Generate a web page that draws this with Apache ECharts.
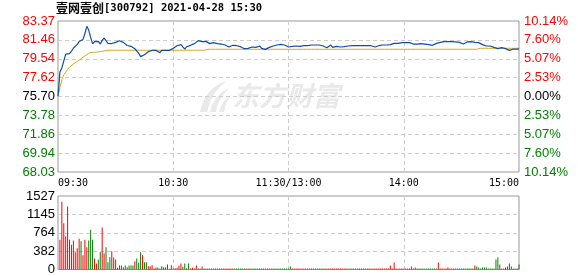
<!DOCTYPE html>
<html><head><meta charset="utf-8">
<script src="https://cdn.jsdelivr.net/npm/echarts@6/dist/echarts.min.js"></script>
<style>html,body{margin:0;padding:0;background:#fff}#c{width:578px;height:276px}</style>
</head><body><div id="c"></div>
<script>
const stockName = '壹网壹创';
const stockInfo = '[300792] 2021-04-28 15:30';
const timeLabels = ['09:30', '10:30', '11:30/13:00', '14:00', '15:00'];
const priceTicks = ['68.03', '69.94', '71.86', '73.78', '75.70', '77.62', '79.54', '81.46', '83.37'];
const pctTicks = ['10.14%', '7.60%', '5.07%', '2.53%', '0.00%', '2.53%', '5.07%', '7.60%', '10.14%'];
const volTicks = ['0', '382', '764', '1145', '1527'];
const priceMin = 68.03, priceMax = 83.37, volMax = 1527;

const price = [
75.72,78.20,78.60,79.30,80.00,80.19,80.05,80.30,80.60,80.80,
81.00,81.28,81.20,81.50,82.10,82.83,82.45,81.70,81.05,81.28,
81.24,81.30,81.03,81.40,81.64,81.37,81.10,81.00,81.08,81.14,
81.20,81.26,81.36,81.38,81.20,81.00,80.88,80.86,80.80,80.62,
80.55,80.45,80.10,79.75,79.85,79.95,80.10,80.25,80.36,80.39,
80.46,80.39,80.40,80.15,80.39,80.46,80.40,80.30,80.39,80.52,
80.59,80.69,80.86,80.97,80.97,80.86,80.52,80.76,80.93,80.90,
80.97,81.07,81.24,81.37,81.37,81.27,81.24,81.30,81.20,81.07,
81.20,81.17,81.10,81.07,81.10,81.03,80.93,80.93,80.83,80.73,
80.76,80.90,80.90,80.86,80.83,80.76,80.66,80.56,80.46,80.59,
80.76,80.73,80.83,80.69,80.76,80.83,80.59,80.66,80.49,80.63,
80.69,80.66,80.83,80.86,80.93,80.97,81.00,80.97,80.93,80.86,
80.73,80.73,80.80,80.83,80.83,80.76,80.80,80.83,80.86,80.86,
80.86,80.90,80.93,80.93,80.93,80.93,80.93,80.86,80.83,80.76,
80.66,80.83,80.93,80.69,80.83,80.80,80.76,80.73,80.63,80.76,
80.69,80.83,80.86,80.86,80.86,80.86,80.86,80.86,80.86,80.86,
80.86,80.86,80.93,80.86,80.83,80.73,80.69,80.86,80.93,80.93,
80.93,80.93,80.93,80.97,81.14,81.10,81.24,81.10,81.03,81.17,
81.17,81.17,81.17,81.17,81.17,81.03,80.97,81.03,80.97,81.07,
81.03,81.03,81.03,80.97,81.03,80.90,81.00,81.10,81.17,81.20,
81.27,81.27,81.30,81.27,81.27,81.27,81.27,81.24,81.24,81.20,
81.10,81.03,81.17,81.24,81.27,81.27,81.27,81.20,81.27,81.17,
81.03,80.97,80.90,80.83,80.83,80.83,80.76,80.69,80.63,80.56,
80.59,80.66,80.59,80.56,80.46,80.39,80.49,80.52,80.52,80.52,
80.52
];

const avgPrice = [
75.72,76.60,77.40,77.90,78.10,78.45,78.68,78.85,79.00,79.12,
79.25,79.40,79.55,79.68,79.82,79.98,80.10,80.16,80.19,80.20,
80.20,80.22,80.27,80.30,80.33,80.36,80.40,80.40,80.40,80.40,
80.40,80.40,80.40,80.40,80.40,80.40,80.40,80.40,80.40,80.40,
80.40,80.40,80.40,80.40,80.40,80.40,80.40,80.40,80.40,80.40,
80.40,80.40,80.40,80.40,80.40,80.40,80.40,80.40,80.40,80.40,
80.40,80.40,80.40,80.40,80.40,80.40,80.40,80.40,80.40,80.40,
80.40,80.40,80.40,80.40,80.40,80.40,80.40,80.50,80.50,80.50,
80.50,80.50,80.50,80.50,80.50,80.50,80.50,80.50,80.50,80.50,
80.50,80.50,80.50,80.50,80.50,80.50,80.50,80.50,80.50,80.50,
80.50,80.50,80.50,80.50,80.50,80.50,80.50,80.50,80.50,80.50,
80.50,80.50,80.50,80.50,80.50,80.50,80.50,80.50,80.50,80.50,
80.50,80.50,80.50,80.50,80.50,80.50,80.50,80.50,80.50,80.50,
80.50,80.50,80.50,80.50,80.50,80.50,80.50,80.50,80.50,80.50,
80.50,80.50,80.50,80.50,80.50,80.50,80.50,80.50,80.50,80.50,
80.50,80.50,80.50,80.50,80.50,80.50,80.50,80.50,80.50,80.50,
80.50,80.50,80.50,80.50,80.50,80.50,80.50,80.50,80.50,80.50,
80.50,80.50,80.50,80.50,80.50,80.50,80.50,80.50,80.50,80.50,
80.50,80.50,80.50,80.50,80.50,80.50,80.50,80.50,80.50,80.50,
80.50,80.50,80.50,80.50,80.50,80.50,80.50,80.50,80.50,80.50,
80.50,80.50,80.50,80.50,80.50,80.50,80.50,80.50,80.50,80.50,
80.50,80.50,80.50,80.50,80.50,80.50,80.50,80.50,80.50,80.60,
80.60,80.60,80.60,80.60,80.60,80.60,80.60,80.60,80.60,80.60,
80.60,80.60,80.60,80.60,80.60,80.60,80.60,80.60,80.60,80.60,
80.60
];

const volume = [
0,619,1410,963,688,1307,619,516,605,358,
440,640,585,296,619,461,605,826,619,227,
124,206,358,874,330,461,151,255,378,248,
206,34,83,83,48,83,48,83,83,83,
172,227,138,358,296,151,151,69,69,89,
28,41,41,21,69,48,48,103,14,89,
28,28,34,76,124,55,124,28,124,21,
34,21,83,21,21,62,20,20,20,20,
20,20,20,20,20,20,20,20,20,20,
20,20,20,20,20,20,20,20,20,20,
20,20,20,20,20,20,20,20,20,20,
20,20,20,20,20,20,20,20,20,20,
20,62,20,20,20,20,20,20,20,20,
20,20,20,20,20,20,20,20,20,20,
20,20,20,20,20,20,20,20,20,20,
20,20,20,20,20,20,20,20,20,20,
20,20,20,20,20,20,20,20,20,20,
20,20,20,83,20,144,20,20,20,20,
20,20,20,20,62,20,41,20,20,20,
20,20,20,20,20,20,20,20,144,20,
20,20,20,41,20,20,20,20,20,20,
20,20,20,20,20,20,20,83,62,41,
20,41,41,41,20,20,20,20,206,248,
103,20,20,41,62,124,62,20,20,20,
103
];

const volDir = [
'r','r','r','r','r','r','g','r','r','r',
'r','r','g','r','r','r','g','g','g','r',
'r','g','g','r','r','g','g','g','r','g',
'r','r','r','r','g','g','g','g','g','g',
'r','g','g','g','r','g','g','r','r','r',
'g','r','g','g','g','g','g','g','r','r',
'r','g','r','r','r','g','g','r','g','r',
'r','r','r','g','r','r','g','g','g','g',
'g','g','g','g','g','r','r','r','r','r',
'r','r','g','g','g','g','g','g','r','r',
'g','g','g','g','g','g','g','r','r','r',
'r','r','r','g','g','g','g','g','g','g',
'g','g','r','r','r','r','r','r','r','r',
'r','g','g','g','g','g','g','g','g','r',
'r','r','r','r','r','r','r','r','r','r',
'r','g','g','g','g','g','g','g','g','g',
'g','g','g','r','r','r','r','r','r','r',
'r','r','r','r','r','r','r','r','r','r',
'r','r','r','r','r','r','r','g','g','g',
'g','g','g','g','g','g','g','g','r','r',
'r','r','r','r','r','r','g','g','g','g',
'g','g','g','g','g','g','g','r','g','g',
'g','g','g','g','g','g','g','g','g','g',
'r','r','r','r','r','g','r','r','g','r',
'g'
];

// minute categories 09:30..11:30 then 13:01..15:00
const minutes = [];
for (let m = 0; m <= 120; m++) { const t = 9 * 60 + 30 + m; minutes.push(String(Math.floor(t / 60)).padStart(2, '0') + ':' + String(t % 60).padStart(2, '0')); }
for (let m = 1; m <= 120; m++) { const t = 13 * 60 + m; minutes.push(String(Math.floor(t / 60)).padStart(2, '0') + ':' + String(t % 60).padStart(2, '0')); }

const RED = '#ff0000', GREEN = '#008000', BLACK = '#000000';
const lblColor = (v) => v > 4 ? RED : (v < 4 ? GREEN : BLACK);
const gridDash = { type: [4, 3], width: 1 };
const mainSplitColors = ['rgba(0,0,0,0)', '#cccccc', '#cccccc', '#cccccc', '#cccccc', '#cccccc', '#cccccc', '#cccccc', 'rgba(0,0,0,0)'];
const volSplitColors = ['rgba(0,0,0,0)', '#cccccc', '#cccccc', '#cccccc', 'rgba(0,0,0,0)'];
const axisFont = 'Liberation Sans';
const wm = '#e9e9e9';

const chart = echarts.init(document.getElementById('c'), null, { renderer: 'canvas' });
chart.setOption({
  animation: false,
  backgroundColor: '#ffffff',
  title: {
    text: '{a|' + stockName + '}{b|' + stockInfo + '}',
    left: 56, top: 1, padding: 0,
    textStyle: { rich: {
      a: { fontFamily: 'Noto Sans CJK SC', fontSize: 12, color: '#000', lineHeight: 14 },
      b: { fontFamily: 'DejaVu Sans Mono', fontSize: 10.5, color: '#000', lineHeight: 14 }
    } }
  },
  graphic: [
    { type: 'polygon', x: 198, y: 80, silent: true, z: 0,
      shape: { points: [[2,32],[4,24],[8,16],[14,9],[21,4],[29,0],[22,7],[16,14],[12,22],[9,32]] }, style: { fill: wm } },
    { type: 'polygon', x: 198, y: 80, silent: true, z: 0,
      shape: { points: [[12,32],[14,25],[18,18],[24,12],[31,8],[26,14],[22,20],[19,26],[18,32]] }, style: { fill: wm } },
    { type: 'polygon', x: 198, y: 80, silent: true, z: 0,
      shape: { points: [[21,32],[23,26],[27,20],[32,16],[29,22],[27,27],[26,32]] }, style: { fill: wm } },
    { type: 'text', left: 232, top: 82, silent: true, z: 0,
      style: { text: '东方财富', font: 'italic bold 27px "Noto Sans CJK SC"', fill: wm } }
  ],
  grid: [
    { left: 58, top: 21, width: 461, height: 151, show: true, borderColor: '#999', borderWidth: 1, backgroundColor: 'transparent' },
    { left: 58, top: 196, width: 461, height: 74, show: true, borderColor: '#999', borderWidth: 1, backgroundColor: 'transparent' }
  ],
  xAxis: [
    { type: 'category', gridIndex: 0, data: minutes, boundaryGap: false,
      axisLine: { show: false }, axisTick: { show: false },
      axisLabel: { interval: (i) => i % 60 === 0, formatter: (v, i) => timeLabels[i / 60],
        fontFamily: 'DejaVu Sans Mono', fontSize: 10, color: '#000', margin: 6,
        alignMinLabel: 'left', alignMaxLabel: 'right' },
      splitLine: { show: true, interval: (i) => i % 60 === 0 && i > 0 && i < 240, lineStyle: { color: '#cccccc', ...gridDash } } },
    { type: 'category', gridIndex: 1, data: minutes, boundaryGap: false,
      axisLine: { show: false }, axisTick: { show: false }, axisLabel: { show: false },
      splitLine: { show: true, interval: (i) => i % 60 === 0 && i > 0 && i < 240, lineStyle: { color: '#cccccc', ...gridDash } } }
  ],
  yAxis: [
    { type: 'value', gridIndex: 0, position: 'left', min: 0, max: 8, interval: 1,
      axisLine: { show: false }, axisTick: { show: false },
      axisLabel: { formatter: (v) => priceTicks[Math.round(v)], color: (v) => lblColor(Math.round(v)), fontFamily: axisFont, fontSize: 13, margin: 3 },
      splitLine: { show: true, lineStyle: { color: mainSplitColors, ...gridDash } } },
    { type: 'value', gridIndex: 0, position: 'right', min: 0, max: 8, interval: 1,
      axisLine: { show: false }, axisTick: { show: false },
      axisLabel: { formatter: (v) => pctTicks[Math.round(v)], color: (v) => lblColor(Math.round(v)), fontFamily: axisFont, fontSize: 13, margin: 5 },
      splitLine: { show: false } },
    { type: 'value', gridIndex: 0, min: priceMin, max: priceMax, show: false, splitLine: { show: false } },
    { type: 'value', gridIndex: 1, position: 'left', min: 0, max: 4, interval: 1,
      axisLine: { show: false }, axisTick: { show: false },
      axisLabel: { formatter: (v) => volTicks[Math.round(v)], color: '#000', fontFamily: axisFont, fontSize: 13, margin: 3 },
      splitLine: { show: true, lineStyle: { color: volSplitColors, ...gridDash } } },
    { type: 'value', gridIndex: 1, min: 0, max: volMax, show: false, splitLine: { show: false } }
  ],
  series: [
    { type: 'line', xAxisIndex: 0, yAxisIndex: 2, data: avgPrice, showSymbol: false, symbol: 'none',
      lineStyle: { color: '#e0a420', width: 1 }, z: 3 },
    { type: 'line', xAxisIndex: 0, yAxisIndex: 2, data: price, showSymbol: false, symbol: 'none',
      lineStyle: { color: '#0f4fa3', width: 1.2 }, z: 4 },
    { type: 'bar', xAxisIndex: 1, yAxisIndex: 4, barWidth: 1,
      data: volume.map((v, i) => ({ value: v, itemStyle: { color: volDir[i] === 'r' ? RED : GREEN } })) }
  ]
});
</script>
</body></html>
